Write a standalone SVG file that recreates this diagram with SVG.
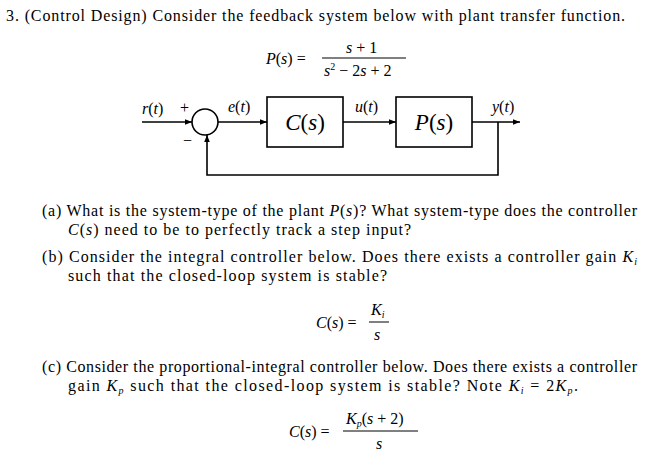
<svg xmlns="http://www.w3.org/2000/svg" width="648" height="457" viewBox="0 0 648 457">
<style>
text{font-family:"Liberation Serif","DejaVu Serif",serif;font-size:16px;fill:#000}
.i{font-style:italic}
.big{font-size:23px}
.ln{stroke:#000;stroke-width:1.6;fill:none}
</style>
<defs><marker id="a" viewBox="0 0 10 10" refX="10" refY="5" markerWidth="7" markerHeight="7" orient="auto" markerUnits="userSpaceOnUse"><path d="M0,1 L10,5 L0,9 z" fill="#000"/></marker></defs>
<rect width="648" height="457" fill="#fff"/>
<text x="6" y="21" textLength="619" lengthAdjust="spacing">3. (Control Design) Consider the feedback system below with plant transfer function.</text>
<text x="266" y="64"><tspan class="i">P</tspan>(<tspan class="i">s</tspan>) =</text>
<text x="346" y="53"><tspan class="i">s</tspan> + 1</text>
<line x1="322" y1="58" x2="406" y2="58" stroke="#000" stroke-width="1"/>
<text x="324" y="76"><tspan class="i">s</tspan><tspan font-size="10" dy="-6">2</tspan><tspan dy="6"> − 2</tspan><tspan class="i">s</tspan> + 2</text>
<g id="sum"><circle cx="205" cy="122" r="13" class="ln" stroke-width="2"/></g>
<g id="C"><rect x="267" y="97" width="76" height="50" class="ln"/><text x="305" y="130" text-anchor="middle" class="big"><tspan class="i">C</tspan>(<tspan class="i">s</tspan>)</text></g>
<g id="P"><rect x="396" y="97" width="76" height="50" class="ln"/><text x="434" y="130" text-anchor="middle" class="big"><tspan class="i">P</tspan>(<tspan class="i">s</tspan>)</text></g>
<g id="connectors">
<line x1="142" y1="122" x2="192" y2="122" class="ln" marker-end="url(#a)"/>
<line x1="218" y1="122" x2="267" y2="122" class="ln" marker-end="url(#a)"/>
<line x1="343" y1="122" x2="396" y2="122" class="ln" marker-end="url(#a)"/>
<line x1="472" y1="122" x2="520" y2="122" class="ln" marker-end="url(#a)"/>
<polyline points="498,122 498,175 207,175 207,135" class="ln" marker-end="url(#a)"/>
</g>
<text x="142" y="114"><tspan class="i">r</tspan>(<tspan class="i">t</tspan>)</text>
<text x="180" y="113">+</text>
<text x="183" y="146">−</text>
<text x="228" y="112"><tspan class="i">e</tspan>(<tspan class="i">t</tspan>)</text>
<text x="355" y="112"><tspan class="i">u</tspan>(<tspan class="i">t</tspan>)</text>
<text x="492" y="112"><tspan class="i">y</tspan>(<tspan class="i">t</tspan>)</text>
<text x="42" y="216" textLength="595" lengthAdjust="spacing">(a) What is the system-type of the plant <tspan class="i">P</tspan>(<tspan class="i">s</tspan>)? What system-type does the controller</text>
<text x="68" y="235" textLength="343" lengthAdjust="spacing"><tspan class="i">C</tspan>(<tspan class="i">s</tspan>) need to be to perfectly track a step input?</text>
<text x="42" y="262" textLength="595" lengthAdjust="spacing">(b) Consider the integral controller below. Does there exists a controller gain <tspan class="i">K</tspan><tspan class="i" font-size="10" dy="3">i</tspan></text>
<text x="68" y="281" textLength="319" lengthAdjust="spacing">such that the closed-loop system is stable?</text>
<text x="316" y="328"><tspan class="i">C</tspan>(<tspan class="i">s</tspan>) =</text>
<text x="371" y="315"><tspan class="i">K</tspan><tspan class="i" font-size="10" dy="3">i</tspan></text>
<line x1="369" y1="322" x2="389" y2="322" stroke="#000" stroke-width="1"/>
<text x="374" y="340" class="i">s</text>
<text x="42" y="372" textLength="595" lengthAdjust="spacing">(c) Consider the proportional-integral controller below. Does there exists a controller</text>
<text x="68" y="391" textLength="510" lengthAdjust="spacing">gain <tspan class="i">K</tspan><tspan class="i" font-size="10" dy="3">p</tspan><tspan dy="-3"> such that the closed-loop system is stable? Note </tspan><tspan class="i">K</tspan><tspan class="i" font-size="10" dy="3">i</tspan><tspan dy="-3"> = 2</tspan><tspan class="i">K</tspan><tspan class="i" font-size="10" dy="3">p</tspan><tspan dy="-3">.</tspan></text>
<text x="289" y="437"><tspan class="i">C</tspan>(<tspan class="i">s</tspan>) =</text>
<text x="346" y="424"><tspan class="i">K</tspan><tspan class="i" font-size="10" dy="3">p</tspan><tspan dy="-3">(</tspan><tspan class="i">s</tspan> + 2)</text>
<line x1="343" y1="431" x2="418" y2="431" stroke="#000" stroke-width="1"/>
<text x="376" y="449" class="i">s</text>
</svg>
